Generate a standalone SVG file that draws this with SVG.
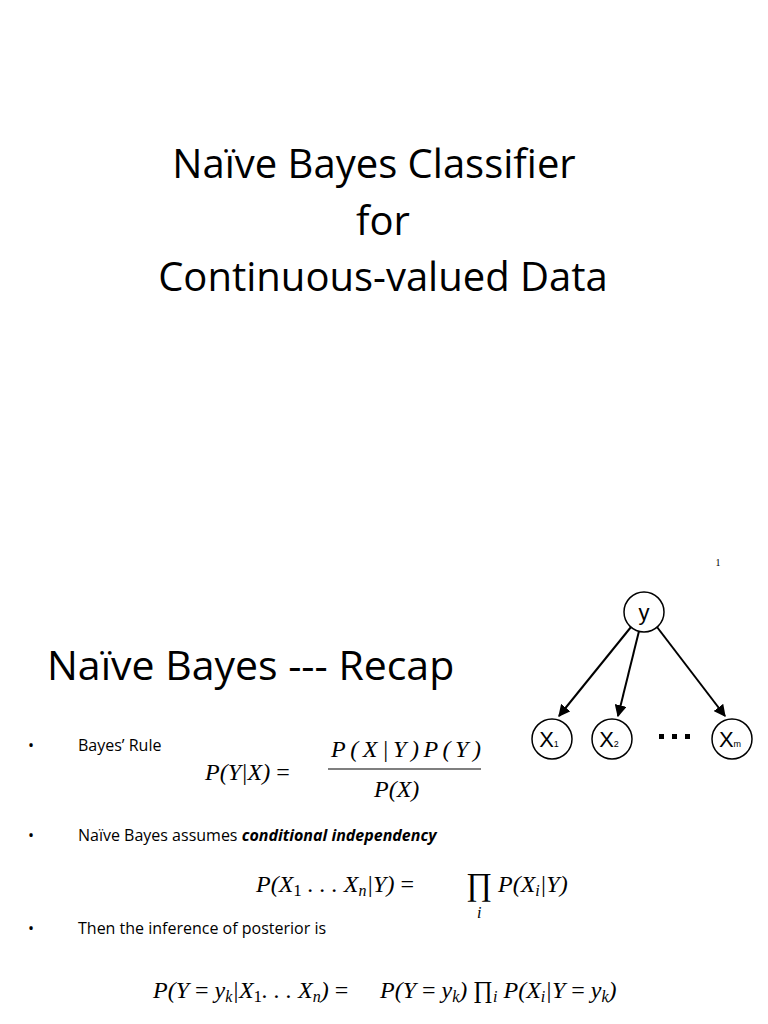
<svg xmlns="http://www.w3.org/2000/svg" width="768" height="1024" viewBox="0 0 768 1024">
<style>
.t{font-family:"Open Sans","Liberation Sans",sans-serif;fill:#000}
.m{font-family:"Liberation Serif",serif;fill:#000}
.i{font-style:italic}
.n{fill:#fff;stroke:#000;stroke-width:1.5}
.g{font-family:"Liberation Sans",sans-serif;fill:#000}
.e{stroke:#000;stroke-width:2;fill:none}
</style>
<defs><marker id="a" viewBox="0 0 10 10" refX="9" refY="5" markerWidth="6" markerHeight="6" orient="auto"><path d="M0,0L10,5L0,10z" fill="#000"/></marker></defs>
<rect width="768" height="1024" fill="#fff"/>
<text class="t" x="374" y="178" font-size="40" text-anchor="middle">Naïve Bayes Classifier</text>
<text class="t" x="383" y="235" font-size="40" text-anchor="middle">for</text>
<text class="t" x="383" y="291" font-size="40" text-anchor="middle">Continuous-valued Data</text>
<text class="m" x="718" y="566" font-size="10" text-anchor="middle" fill="#666">1</text>
<text class="t" x="47" y="680" font-size="41">Naïve Bayes --- Recap</text>
<g class="t" font-size="16">
<text x="28" y="751">•</text><text x="78" y="751">Bayes’ Rule</text>
<text x="28" y="841">•</text><text x="78" y="841">Naïve Bayes assumes <tspan font-weight="bold" font-style="italic">conditional independency</tspan></text>
<text x="28" y="934">•</text><text x="78" y="934">Then the inference of posterior is</text>
</g>
<g class="m i" font-size="24">
<text x="205" y="780">P(Y|X) <tspan font-style="normal">=</tspan></text>
<text x="331" y="757" textLength="150">P(X|Y)P(Y)</text>
<line x1="328" y1="769" x2="481" y2="769" stroke="#000" stroke-width="1.2"/>
<text x="374" y="797">P(X)</text>
<text x="256" y="892">P(X<tspan font-style="normal" font-size="17" dy="4">1</tspan><tspan dy="-4"> . . . X</tspan><tspan font-size="16" dy="4">n</tspan><tspan dy="-4">|Y) </tspan><tspan font-style="normal">=</tspan></text>
<text x="466" y="895" font-size="32" font-style="normal">∏</text>
<text x="498" y="892">P(X<tspan font-size="16" dy="4">i</tspan><tspan dy="-4">|Y)</tspan></text>
<text x="477" y="918" font-size="16">i</text>
<text x="153" y="998">P(Y <tspan font-style="normal">=</tspan> y<tspan font-size="16" dy="4">k</tspan><tspan dy="-4">|X</tspan><tspan font-style="normal" font-size="17" dy="4">1</tspan><tspan dy="-4">. . . X</tspan><tspan font-size="16" dy="4">n</tspan><tspan dy="-4">) </tspan><tspan font-style="normal">=</tspan></text>
<text x="380" y="998">P(Y <tspan font-style="normal">=</tspan> y<tspan font-size="16" dy="4">k</tspan><tspan dy="-4">) </tspan><tspan font-style="normal">∏</tspan><tspan font-size="16" dy="4">i</tspan><tspan dy="-4"> P(X</tspan><tspan font-size="16" dy="4">i</tspan><tspan dy="-4">|Y </tspan><tspan font-style="normal">=</tspan> y<tspan font-size="16" dy="4">k</tspan><tspan dy="-4">)</tspan></text>
</g>
<g id="edges">
<line class="e" x1="631" y1="627" x2="559" y2="716" marker-end="url(#a)"/>
<line class="e" x1="639" y1="631" x2="618" y2="716" marker-end="url(#a)"/>
<line class="e" x1="657" y1="627" x2="725" y2="716" marker-end="url(#a)"/>
</g>
<g id="y"><circle class="n" cx="644" cy="612" r="20"/><text class="g" x="644" y="620" font-size="22" text-anchor="middle">y</text></g>
<g id="x1"><circle class="n" cx="552" cy="739" r="20"/><text class="g" x="549" y="747" font-size="22" text-anchor="middle">X<tspan font-size="9">1</tspan></text></g>
<g id="x2"><circle class="n" cx="612" cy="739" r="20"/><text class="g" x="609" y="747" font-size="22" text-anchor="middle">X<tspan font-size="9">2</tspan></text></g>
<g id="dots" fill="#000"><rect x="659" y="734" width="5" height="5"/><rect x="672" y="734" width="5" height="5"/><rect x="685" y="734" width="5" height="5"/></g>
<g id="xm"><circle class="n" cx="732" cy="739" r="20"/><text class="g" x="730" y="747" font-size="22" text-anchor="middle">X<tspan font-size="9">m</tspan></text></g>
</svg>
